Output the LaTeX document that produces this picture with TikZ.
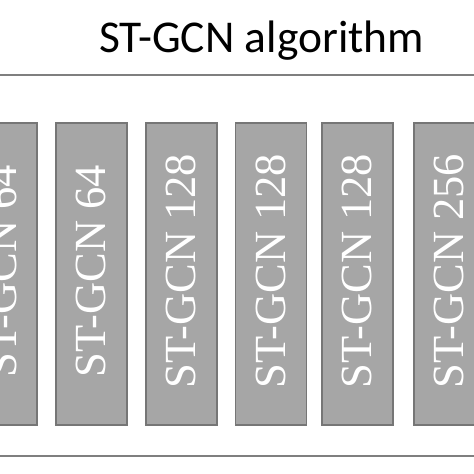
\documentclass[tikz,border=0pt]{standalone}
\usepackage{fontspec}
\setmainfont{Liberation Serif}
\newfontfamily\titlefont{Carlito}
\definecolor{boxfill}{HTML}{A6A6A6}
\definecolor{boxline}{HTML}{767676}
\definecolor{ruleline}{HTML}{7F7F7F}
\begin{document}
\begin{tikzpicture}[x=1pt,y=1pt,
  layer/.style={draw=boxline, line width=1.6pt, fill=boxfill, minimum width=71pt, minimum height=302pt, inner sep=0pt},
  layertext/.style={text=white, rotate=90, font=\fontsize{44.5}{44.5}\selectfont},
  rule/.style={draw=ruleline, line width=2pt}]
\useasboundingbox (0,0) rectangle (474,474);
\node[font=\titlefont\fontsize{45.5}{45.5}\selectfont, anchor=base] (title) at (261.5,421) {ST-GCN algorithm};
\coordinate (tl) at (-5,399);
\coordinate (tr) at (480,399);
\coordinate (bl) at (-5,18);
\coordinate (br) at (480,18);
\draw[rule] (tl) -- (tr);
\draw[rule] (bl) -- (br);
\node[layer] (b1) at (1.5,200) {};
\node[layer] (b2) at (91.3,200) {};
\node[layer] (b3) at (181.2,200) {};
\node[layer] (b4) at (271,200) {};
\node[layer] (b5) at (357.2,200) {};
\node[layer] (b6) at (449.2,200) {};
\node[layertext] (t1) at ([yshift=3pt]b1.center) {ST-GCN 64};
\node[layertext] (t2) at ([yshift=3pt]b2.center) {ST-GCN 64};
\node[layertext] (t3) at ([yshift=3pt]b3.center) {ST-GCN 128};
\node[layertext] (t4) at ([yshift=3pt]b4.center) {ST-GCN 128};
\node[layertext] (t5) at ([yshift=3pt]b5.center) {ST-GCN 128};
\node[layertext] (t6) at ([yshift=3pt]b6.center) {ST-GCN 256};
\end{tikzpicture}
\end{document}
